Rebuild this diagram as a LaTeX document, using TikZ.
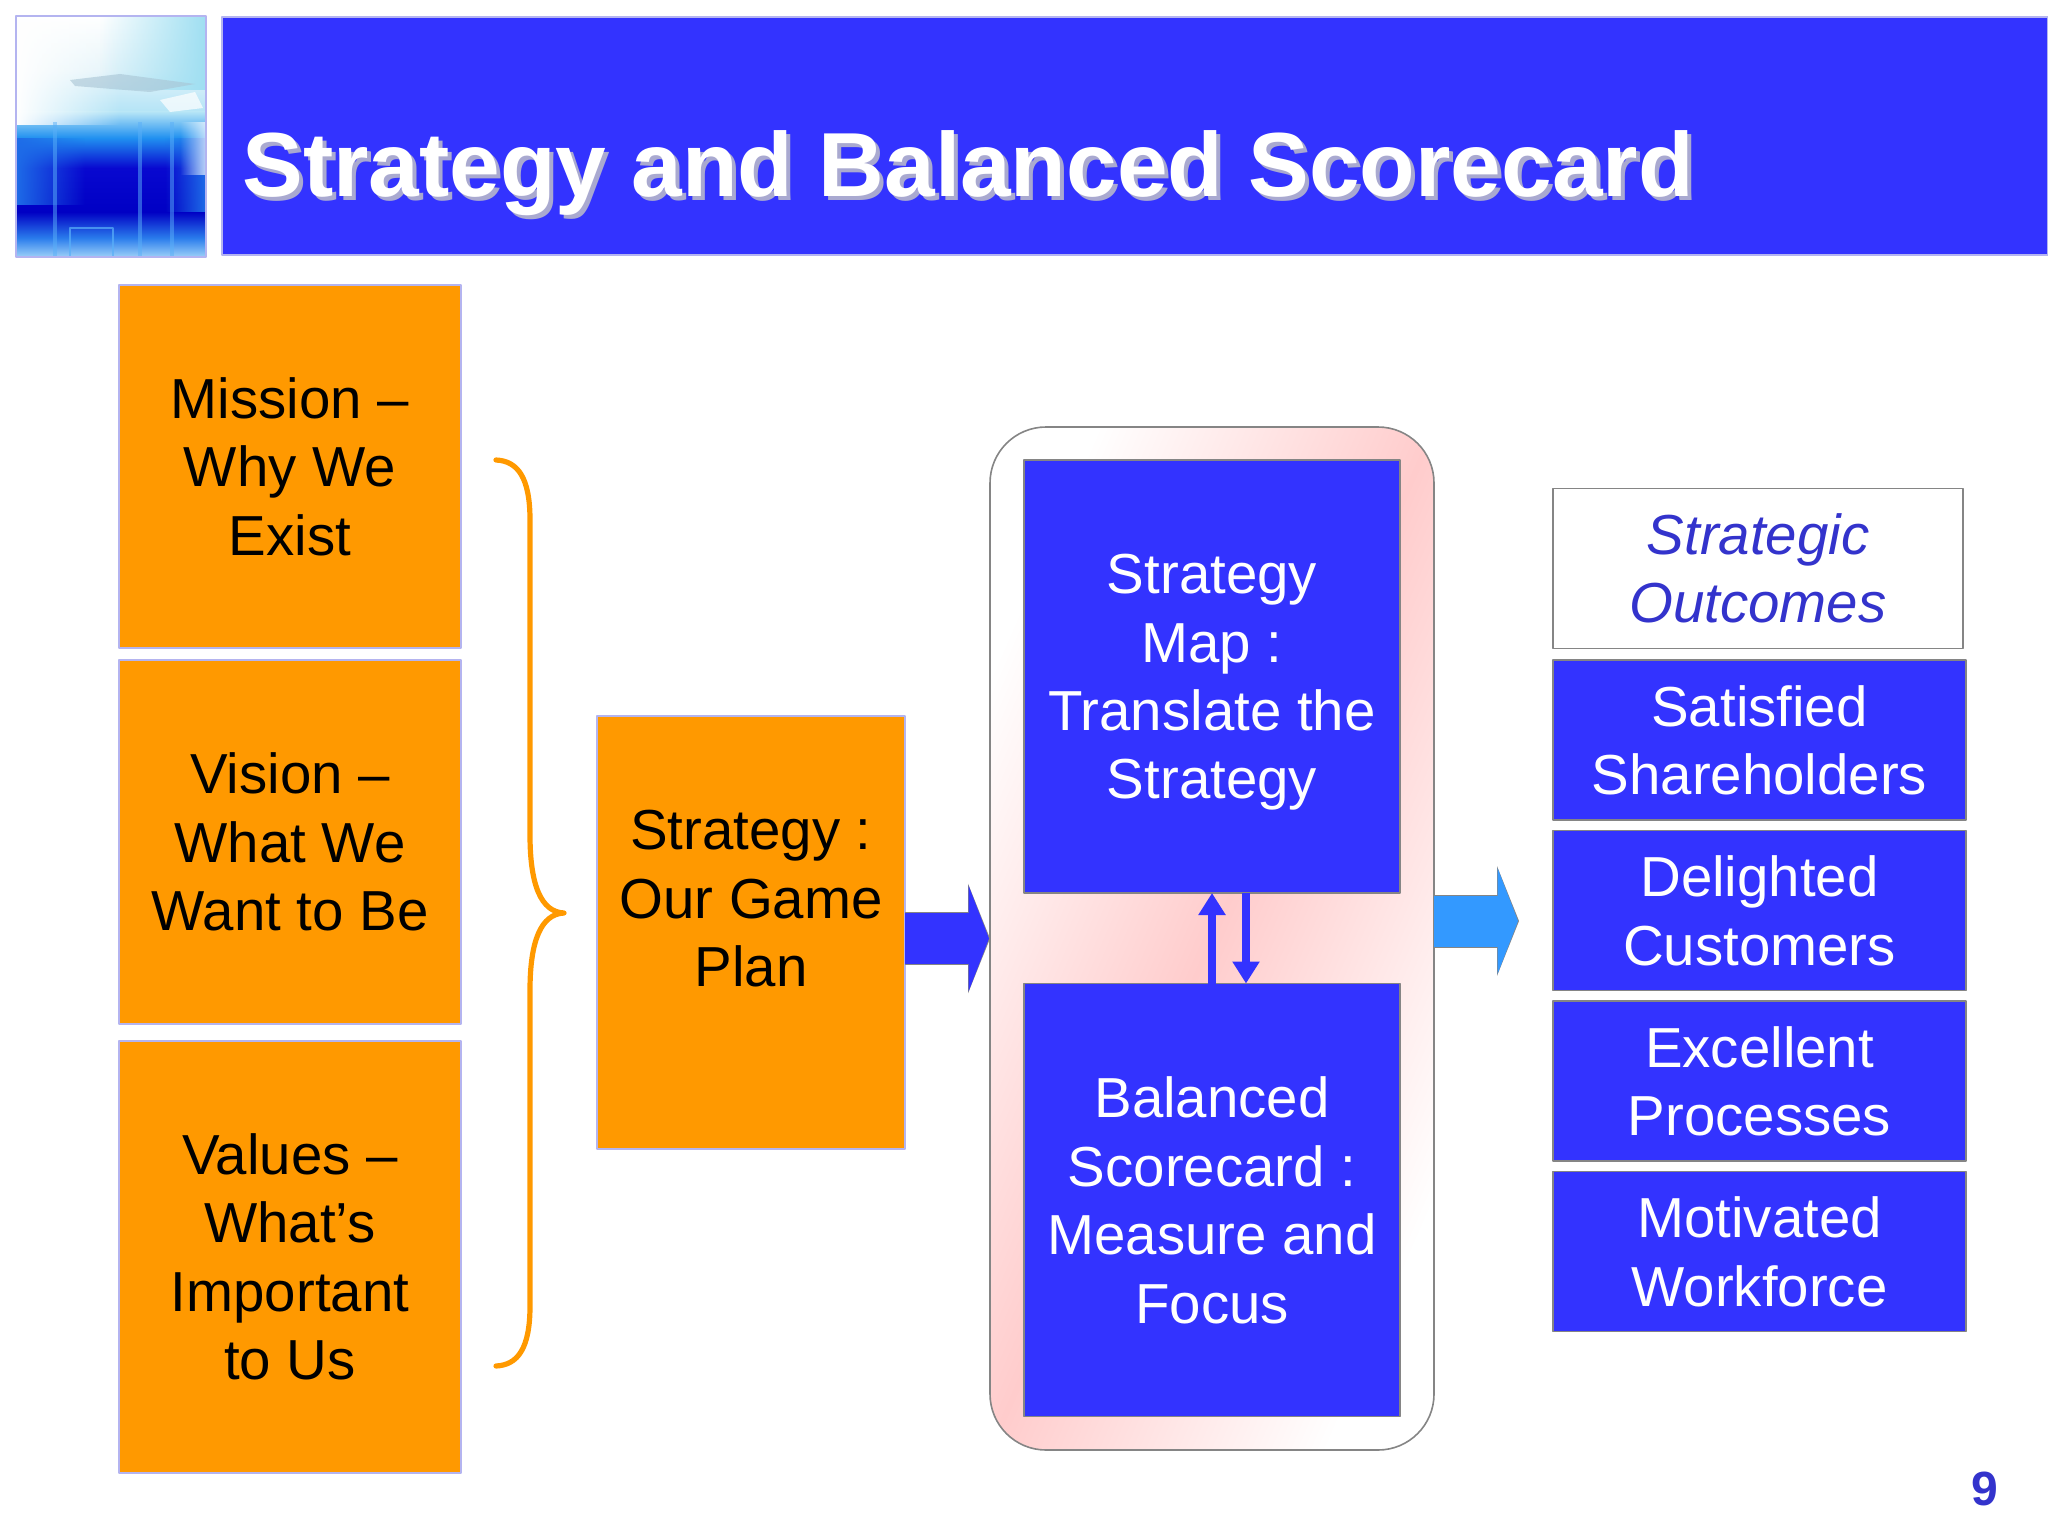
\documentclass[tikz,border=0pt]{standalone}
\usepackage{fontspec}
\setmainfont{Liberation Sans}
\usetikzlibrary{arrows.meta,fadings}
\definecolor{barblue}{HTML}{3333FF}
\definecolor{skyblue}{HTML}{3399FF}
\definecolor{gameorange}{HTML}{FF9900}
\definecolor{rimlilac}{HTML}{B4B4F0}
\definecolor{rimgray}{HTML}{858585}
\definecolor{hubpink}{HTML}{FFCCCC}
\definecolor{numblue}{HTML}{3333CC}
\definecolor{shadegray}{HTML}{A9A9D0}
\definecolor{icepale}{HTML}{9FDFF2}
\definecolor{seablue}{HTML}{1E6CE8}
\definecolor{streakgray}{HTML}{A8C4D4}
\definecolor{gridblue}{HTML}{5AB0F8}
\tikzset{
	orangebox/.style={draw=rimlilac, fill=gameorange, line width=.8pt, text=black, align=center, inner sep=0pt, outer sep=0pt},
	bluebox/.style={draw=rimgray, fill=barblue, line width=.8pt, text=white, align=center, inner sep=0pt, outer sep=0pt, text depth=0pt},
	whitebox/.style={draw=rimgray, fill=white, line width=.8pt, text=numblue, align=center, inner sep=0pt, outer sep=0pt, font=\fontsize{28.2}{34.2}\selectfont\itshape},
	smallarrow/.style={draw=barblue, line width=4pt, -{Triangle[width=13pt,length=11pt]}},
}
\begin{document}
\begin{tikzpicture}[x=.5pt, y=-.5pt, font=\fontsize{28.2}{34.2}\selectfont, line join=round]
	\useasboundingbox (0,0) rectangle (2048,1536);
	% logo
	\begin{scope}
		\clip (16,16) rectangle (206,257);
		\foreach \ya/\yb/\ca/\cb in {16/70/FFFFFF/E4F4FA, 70/112/E4F4FA/B4E4F6, 112/138/B4E4F6/2090F0, 138/168/2090F0/0808D0, 168/212/0808D0/0000C4, 212/238/0000C4/2A7CEC, 238/257/2A7CEC/9CD0F8}{
			\definecolor{ctop}{HTML}{\ca}
			\definecolor{cbot}{HTML}{\cb}
			\shade[top color=ctop, bottom color=cbot] (16,\ya) rectangle (206,\yb);
		}
		\fill[white, path fading=east] (16,16) rectangle (120,125);
		\fill[icepale, path fading=west] (100,16) rectangle (206,90);
		\fill[seablue, path fading=east] (16,138) rectangle (85,205);
		\fill[seablue, path fading=west] (165,138) rectangle (206,212);
		\fill[white, opacity=.7, path fading=west] (180,122) rectangle (206,175);
		\fill[streakgray, opacity=.6] (70,80) -- (120,74) -- (195,84) -- (150,92) -- (75,86) -- cycle;
		\fill[white, opacity=.7] (160,100) -- (195,92) -- (203,108) -- (170,112) -- cycle;
		\foreach \i in {55,140,172}{\draw[gridblue, opacity=.5, line width=2pt] (\i,122) -- (\i,257);}
		\draw[gridblue, opacity=.7, line width=1pt] (70,228) rectangle (113,257);
	\end{scope}
	\draw[rimlilac, line width=1pt] (16,16) rectangle (206,257);
	% title bar
	\node[draw=rimlilac, fill=barblue, line width=.6pt, minimum width=913pt, minimum height=119pt, inner sep=0pt, outer sep=0pt, anchor=north west] (bar) at (222,17) {};
	\node[anchor=base west, inner sep=0pt, text=shadegray, font=\fontsize{45.5}{50}\selectfont\bfseries] (titleshade) at (246,200) {Strategy and Balanced Scorecard};
	\node[anchor=base west, inner sep=0pt, text=white, font=\fontsize{45.5}{50}\selectfont\bfseries] (title) at (242,196) {Strategy and Balanced Scorecard};
	% left column
	\node[orangebox, minimum width=171pt, minimum height=181.5pt] (mission) at (290,466.5) {Mission --\\Why We\\Exist};
	\node[orangebox, minimum width=171pt, minimum height=182pt] (vision) at (290,842) {Vision --\\What We\\Want to Be};
	\node[orangebox, minimum width=171pt, minimum height=216pt] (values) at (290,1257) {Values --\\What’s\\Important\\to Us};
	\draw[gameorange, line width=2.6pt, line cap=round] (496,460) .. controls (518,461) and (530,478) .. (530,520) -- (530,835) .. controls (530,885) and (541,912) .. (564,913) .. controls (541,914) and (530,941) .. (530,990) -- (530,1306) .. controls (530,1348) and (518,1365) .. (496,1366);
	\node[orangebox, minimum width=154pt, minimum height=216.5pt] (plan) at (751,932.5) {Strategy :\\Our Game\\Plan\\~};
	% centre
	\node[draw=rimgray, line width=.8pt, top color=white, bottom color=white, middle color=hubpink, shading angle=66.5, rounded corners=28pt, minimum width=222pt, minimum height=511.5pt, inner sep=0pt, outer sep=0pt] (hub) at (1212,938.5) {};
	\node[bluebox, minimum width=188pt, minimum height=216.5pt] (map) at (1212,676.5) {Strategy\\Map :\\Translate the\\Strategy};
	\node[bluebox, minimum width=188pt, minimum height=216.5pt] (card) at (1212,1200) {Balanced\\Scorecard :\\Measure and\\Focus};
	\draw[smallarrow] (card.north) -- (map.south);
	\draw[smallarrow] ([xshift=17pt]map.south) -- ([xshift=17pt]card.north);
	% big arrows
	\coordinate (outtip) at (1519,921);
	\draw[rimgray, line width=26.5pt, -{Triangle[width=54.5pt,length=11pt]}] (plan.east |- hub.west) -- (hub.west);
	\draw[barblue, line width=25.5pt, shorten >=.5pt, -{Triangle[width=52.5pt,length=10.2pt]}] (plan.east |- hub.west) -- (hub.west);
	\draw[rimgray, line width=26.5pt, -{Triangle[width=54.5pt,length=11pt]}] (hub.east |- outtip) -- (outtip);
	\draw[skyblue, line width=25.5pt, shorten >=.5pt, -{Triangle[width=52.5pt,length=10.2pt]}] (hub.east |- outtip) -- (outtip);
	% right column
	\node[whitebox, minimum width=205pt, minimum height=80pt] (outcomes) at (1758,568.5) {Strategic\\Outcomes};
	\node[bluebox, minimum width=206.5pt, minimum height=80pt] (holders) at (1759.5,740) {Satisfied\\Shareholders};
	\node[bluebox, minimum width=206.5pt, minimum height=80pt] (customers) at (1759.5,910.5) {Delighted\\Customers};
	\node[bluebox, minimum width=206.5pt, minimum height=80pt] (processes) at (1759.5,1081) {Excellent\\Processes};
	\node[bluebox, minimum width=206.5pt, minimum height=80pt] (workforce) at (1759.5,1251.5) {Motivated\\Workforce};
	\node[text=numblue, font=\fontsize{24}{28}\selectfont\bfseries, inner sep=0pt] (pagenum) at (1985,1489) {9};
\end{tikzpicture}
\end{document}
